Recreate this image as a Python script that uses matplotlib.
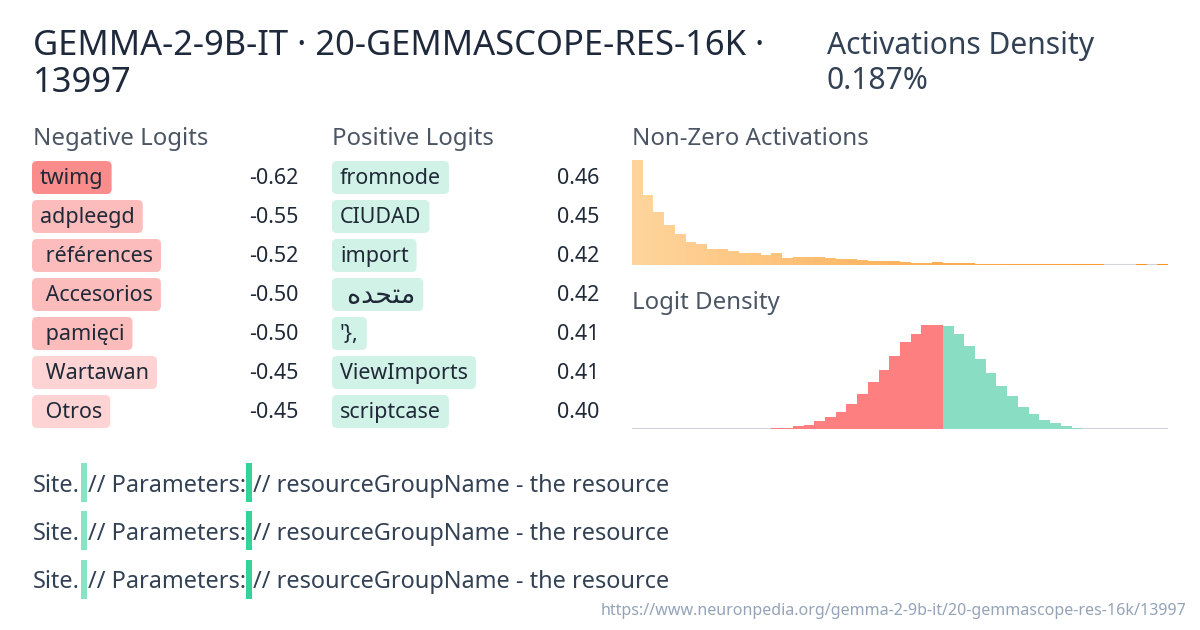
import numpy as np
import matplotlib
matplotlib.use("Agg")
import matplotlib.pyplot as plt
from matplotlib.patches import FancyBboxPatch, Rectangle

# ---------------- data ----------------
title_line1 = "GEMMA-2-9B-IT · 20-GEMMASCOPE-RES-16K ·"
title_line2 = "13997"
density_label = "Activations Density"
density_value = "0.187%"

neg_tokens = ["twimg", "adpleegd", " références", " Accesorios", " pamięci", " Wartawan", " Otros"]
neg_values = [-0.62, -0.55, -0.52, -0.50, -0.50, -0.45, -0.45]
neg_colors = ["#fb8c8c", "#fcbcbc", "#fcbcbc", "#fcbcbc", "#fcbcbc", "#fdd3d3", "#fdd3d3"]

# Arabic token written in shaped presentation forms (visual order) so it reads correctly
pos_tokens = ["fromnode", "CIUDAD", "import", " \ufee9\ufeaa\ufea4\ufe98\ufee3", "'},", "ViewImports", "scriptcase"]
pos_values = [0.46, 0.45, 0.42, 0.42, 0.41, 0.41, 0.40]
pos_color = "#d1f2e6"

# Non-zero activation histogram (50 bins, relative heights)
act_hist = [312, 210, 159, 120, 93, 69, 63, 48, 48, 42,
            36, 36, 30, 36, 21, 24, 24, 24, 21, 18,
            18, 15, 12, 12, 12, 9, 6, 6, 9, 6,
            6, 6, 3, 3, 3, 3, 3, 3, 3, 3,
            3, 3, 3, 3, 0, 0, 0, 3, 0, 3]

# Logit density histogram (50 bins, relative heights); first 29 bins negative
logit_hist = [0, 0, 0, 0, 0, 0, 0, 0, 0, 0,
              0, 0, 1, 2, 3, 9, 12, 24, 36, 51,
              75, 105, 141, 177, 219, 261, 285, 310, 310, 307,
              285, 249, 210, 168, 129, 99, 66, 45, 27, 18,
              9, 3, 1, 0, 0, 0, 0, 0, 0, 0]
n_negative_bins = 29

example_segments = ["Site.", "// Parameters:", "// resourceGroupName - the resource"]
example_count = 3
highlight_colors = ["#86e3c3", "#34d399"]

url = "https://www.neuronpedia.org/gemma-2-9b-it/20-gemmascope-res-16k/13997"

# ---------------- style ----------------
W, H = 1200, 630
DPI = 100
FONT = ["Noto Sans", "DejaVu Sans"]
plt.rcParams["font.family"] = FONT
DARK = "#1e293b"
SLATE = "#334155"
GRAY = "#4b5563"
TEXT = "#1f2937"

fig = plt.figure(figsize=(W / DPI, H / DPI), dpi=DPI)
fig.patch.set_facecolor("white")
ax = fig.add_axes([0, 0, 1, 1])
ax.set_xlim(0, W)
ax.set_ylim(H, 0)
ax.axis("off")
renderer = fig.canvas.get_renderer()


def px2pt(px):
    return px * 72.0 / DPI


def text_width(s, size):
    t = ax.text(0, 0, s, fontsize=size)
    bb = t.get_window_extent(renderer=renderer)
    t.remove()
    return bb.width


def is_arabic(s):
    return any(0x0600 <= ord(c) <= 0x06FF or 0xFB50 <= ord(c) <= 0xFEFF for c in s)


# Title
tsz = px2pt(34.5)
ax.text(33, 46, title_line1, fontsize=tsz, color=DARK, va="center", ha="left")
ax.text(33, 83, title_line2, fontsize=tsz, color=DARK, va="center", ha="left")
dsz = px2pt(30)
ax.text(827, 46, density_label, fontsize=dsz, color=SLATE, va="center", ha="left")
ax.text(827, 81, density_value, fontsize=dsz, color=SLATE, va="center", ha="left")

# Section headers
hsize = px2pt(24)
ax.text(33, 139, "Negative Logits", fontsize=hsize, color=GRAY, va="center")
ax.text(332, 139, "Positive Logits", fontsize=hsize, color=GRAY, va="center")
ax.text(632, 139, "Non-Zero Activations", fontsize=hsize, color=GRAY, va="center")
ax.text(632, 303, "Logit Density", fontsize=hsize, color=GRAY, va="center")

# Token pills
tsize = px2pt(21.5)
row_y0, row_dy = 178.5, 39
pill_h = 33


def draw_pills(x0, tokens, values, colors, val_x, fmt):
    for i, (tok, val) in enumerate(zip(tokens, values)):
        y = row_y0 + i * row_dy
        size = tsize * 1.25 if is_arabic(tok) else tsize
        w = text_width(tok, size) + 16
        p = FancyBboxPatch((x0, y - pill_h / 2 - 1), w, pill_h,
                           boxstyle="round,pad=0,rounding_size=5",
                           fc=colors[i], ec="none")
        ax.add_patch(p)
        ax.text(x0 + 8, y, tok, fontsize=size, color=TEXT, va="center", ha="left")
        ax.text(val_x, y, fmt.format(val), fontsize=tsize, color=TEXT, va="center", ha="right")


draw_pills(32, neg_tokens, neg_values, neg_colors, 299, "{:.2f}")
draw_pills(332, pos_tokens, pos_values, [pos_color] * len(pos_tokens), 599, "{:.2f}")

# Example text lines with highlights between segments
esize = px2pt(23.5)
for k in range(example_count):
    y = 485.5 + k * 48.5
    x = 33
    for j, seg in enumerate(example_segments):
        ax.text(x, y, seg, fontsize=esize, color=SLATE, va="center", ha="left")
        x += text_width(seg, esize)
        if j < len(highlight_colors):
            ax.add_patch(Rectangle((x + 0.5, y - 23), 6, 39, fc=highlight_colors[j], ec="none"))
            x += 7.5

ax.text(1186, 611, url, fontsize=px2pt(16), color="#94a3b8", va="center", ha="right")

# Histograms
hx0, hx1 = 632, 1168


def hist_axes(top, bottom):
    return fig.add_axes([hx0 / W, (H - bottom) / H, (hx1 - hx0) / W, (bottom - top) / H])


# Non-zero activations
a1 = hist_axes(160, 265)
n = len(act_hist)
xs = np.arange(n)
c0 = np.array([254, 212, 156]) / 255
c1 = np.array([251, 146, 30]) / 255
cols = [tuple(c0 + (c1 - c0) * (i / (n - 1))) for i in range(n)]
a1.bar(xs, act_hist, width=1.0, align="edge", color=cols, linewidth=0)
a1.set_xlim(0, n)
a1.set_ylim(0, max(act_hist) * 1.003)
a1.axis("off")
a1.axhline(0, color="#d1d5db", lw=1.5, zorder=0)

# Logit density
a2 = hist_axes(325, 429)
n2 = len(logit_hist)
xs2 = np.arange(n2)
lcols = ["#fe7f7f" if i < n_negative_bins else "#89ddc2" for i in range(n2)]
a2.bar(xs2, logit_hist, width=1.0, align="edge", color=lcols, linewidth=0)
a2.set_xlim(0, n2)
a2.set_ylim(0, max(logit_hist) * 1.003)
a2.axis("off")
a2.axhline(0, color="#d1d5db", lw=1.5, zorder=0)

fig.savefig("out.png", dpi=DPI, facecolor="white")
